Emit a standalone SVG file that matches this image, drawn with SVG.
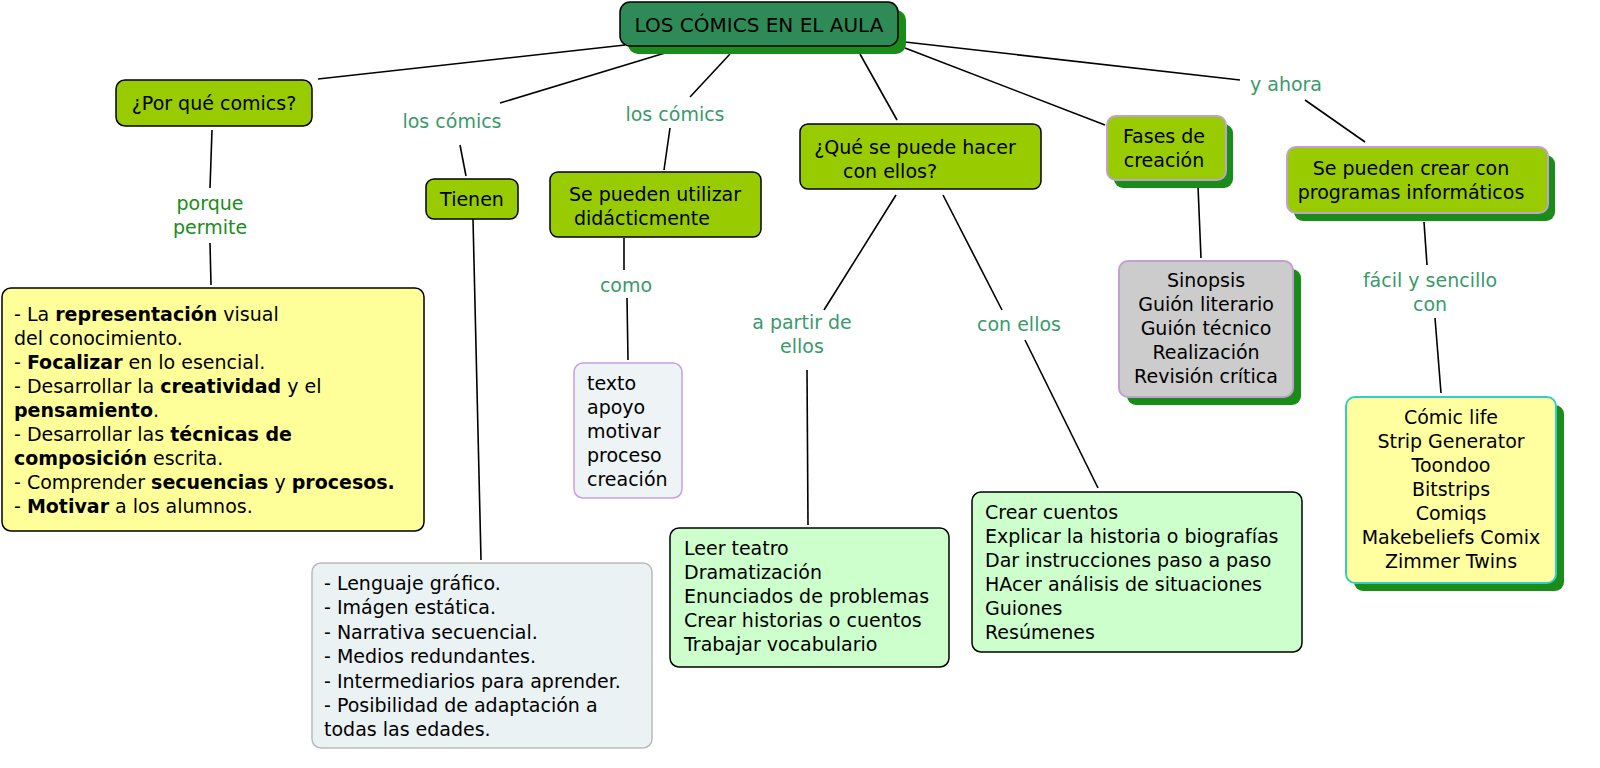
<svg xmlns="http://www.w3.org/2000/svg" width="1600" height="768" viewBox="0 0 1600 768">
<style>
text{font-family:"DejaVu Sans",Verdana,sans-serif;font-size:19px;fill:#000}
.c{text-anchor:middle}
.lbl{fill:#3a9a6a;text-anchor:middle}
.lbl2{fill:#1a8c1a;text-anchor:middle}
.g{fill:#99cc00;stroke:#000;stroke-width:1.5}
.gp{fill:#99cc00;stroke:#c0a0d0;stroke-width:2}
.sh{fill:#1a8c1a}
#conn line{stroke:#000;stroke-width:1.6}
</style>
<rect width="1600" height="768" fill="#fff"/>
<g id="conn">
<line x1="625" y1="45" x2="318" y2="79"/>
<line x1="665" y1="53" x2="500" y2="103"/>
<line x1="460" y1="145" x2="466" y2="176"/>
<line x1="730" y1="54" x2="690" y2="97"/>
<line x1="670" y1="128" x2="664" y2="170"/>
<line x1="860" y1="54" x2="897" y2="120"/>
<line x1="905" y1="48" x2="1105" y2="125"/>
<line x1="905" y1="42" x2="1240" y2="80"/>
<line x1="1305" y1="100" x2="1365" y2="142"/>
<line x1="212" y1="130" x2="210" y2="188"/>
<line x1="210" y1="243" x2="211" y2="285"/>
<line x1="473" y1="219" x2="481" y2="560"/>
<line x1="624" y1="238" x2="624" y2="270"/>
<line x1="627" y1="298" x2="628" y2="360"/>
<line x1="896" y1="195" x2="824" y2="310"/>
<line x1="807" y1="370" x2="808" y2="525"/>
<line x1="943" y1="195" x2="1002" y2="310"/>
<line x1="1025" y1="340" x2="1098" y2="488"/>
<line x1="1198" y1="186" x2="1201" y2="258"/>
<line x1="1424" y1="222" x2="1427" y2="265"/>
<line x1="1435" y1="318" x2="1441" y2="393"/>
</g>
<g id="labels">
<text class="lbl" x="452" y="128">los cómics</text>
<text class="lbl" x="675" y="121">los cómics</text>
<text class="lbl" x="1286" y="91">y ahora</text>
<text class="lbl2" x="210" y="210">porque</text>
<text class="lbl2" x="210" y="234">permite</text>
<text class="lbl" x="626" y="292">como</text>
<text class="lbl" x="802" y="329">a partir de</text>
<text class="lbl" x="802" y="353">ellos</text>
<text class="lbl" x="1019" y="331">con ellos</text>
<text class="lbl" x="1430" y="287">fácil y sencillo</text>
<text class="lbl" x="1430" y="311">con</text>
</g>
<g id="root">
<rect class="sh" x="628" y="10" width="278" height="44" rx="10"/>
<rect x="620" y="2" width="278" height="44" rx="10" fill="#2e8b57" stroke="#000" stroke-width="1.5"/>
<text class="c" x="759" y="32" style="font-size:20px">LOS CÓMICS EN EL AULA</text>
</g>
<g id="porque"><rect class="g" x="116" y="80" width="196" height="46" rx="9"/><text class="c" x="214" y="110">¿Por qué comics?</text></g>
<g id="tienen"><rect class="g" x="426" y="179" width="92" height="40" rx="8"/><text class="c" x="472" y="206">Tienen</text></g>
<g id="utilizar"><rect class="g" x="550" y="172" width="211" height="65" rx="8"/><text class="c" x="655" y="201">Se pueden utilizar</text><text class="c" x="642" y="225">didácticmente</text></g>
<g id="que"><rect class="g" x="800" y="124" width="241" height="65" rx="8"/><text class="c" x="915" y="154">¿Qué se puede hacer</text><text class="c" x="890" y="178">con ellos?</text></g>
<g id="fases"><rect class="sh" x="1114" y="124" width="119" height="64" rx="9"/><rect class="gp" x="1107" y="116" width="119" height="64" rx="9"/><text class="c" x="1164" y="143">Fases de</text><text class="c" x="1164" y="167">creación</text></g>
<g id="crear"><rect class="sh" x="1294" y="155" width="261" height="66" rx="9"/><rect class="gp" x="1287" y="147" width="261" height="66" rx="9"/><text class="c" x="1411" y="175">Se pueden crear con</text><text class="c" x="1411" y="199">programas informáticos</text></g>
<g id="razones">
<rect x="2" y="288" width="422" height="243" rx="9" fill="#ffff99" stroke="#000" stroke-width="1.5"/>
<text x="14" y="321">- La <tspan font-weight="bold">representación</tspan> visual</text>
<text x="14" y="345">del conocimiento.</text>
<text x="14" y="369">-  <tspan font-weight="bold">Focalizar</tspan> en lo esencial.</text>
<text x="14" y="393">- Desarrollar la <tspan font-weight="bold">creatividad</tspan> y el</text>
<text x="14" y="417"><tspan font-weight="bold">pensamiento</tspan>.</text>
<text x="14" y="441">- Desarrollar las <tspan font-weight="bold">técnicas de</tspan></text>
<text x="14" y="465"> <tspan font-weight="bold">composición</tspan> escrita.</text>
<text x="14" y="489">- Comprender <tspan font-weight="bold">secuencias</tspan> y <tspan font-weight="bold">procesos.</tspan></text>
<text x="14" y="513">- <tspan font-weight="bold">Motivar</tspan> a los alumnos.</text>
</g>
<g id="caracteristicas">
<rect x="312" y="563" width="340" height="185" rx="9" fill="#eaf2f4" stroke="#bbbbbb" stroke-width="1.5"/>
<text x="324" y="590">- Lenguaje gráfico.</text>
<text x="324" y="614">- Imágen estática.</text>
<text x="324" y="639">- Narrativa secuencial.</text>
<text x="324" y="663">- Medios redundantes.</text>
<text x="324" y="688">- Intermediarios para aprender.</text>
<text x="324" y="712">- Posibilidad de adaptación a</text>
<text x="324" y="736">todas las edades.</text>
</g>
<g id="texto">
<rect x="574" y="363" width="108" height="135" rx="9" fill="#eef4f6" stroke="#c8a0e0" stroke-width="1.5"/>
<text x="587" y="390">texto</text><text x="587" y="414">apoyo</text><text x="587" y="438">motivar</text><text x="587" y="462">proceso</text><text x="587" y="486">creación</text>
</g>
<g id="partir">
<rect x="670" y="528" width="279" height="139" rx="9" fill="#ccffcc" stroke="#000" stroke-width="1.5"/>
<text x="684" y="555">Leer teatro</text><text x="684" y="579">Dramatización</text><text x="684" y="603">Enunciados de problemas</text><text x="684" y="627">Crear historias o cuentos</text><text x="684" y="651">Trabajar vocabulario</text>
</g>
<g id="conellos">
<rect x="972" y="492" width="330" height="160" rx="9" fill="#ccffcc" stroke="#000" stroke-width="1.5"/>
<text x="985" y="519">Crear cuentos</text><text x="985" y="543">Explicar la historia o biografías</text><text x="985" y="567">Dar instrucciones paso a paso</text><text x="985" y="591">HAcer análisis de situaciones</text><text x="985" y="615">Guiones</text><text x="985" y="639">Resúmenes</text>
</g>
<g id="sinopsis">
<rect class="sh" x="1127" y="269" width="174" height="136" rx="9"/>
<rect x="1119" y="261" width="174" height="136" rx="9" fill="#cccccc" stroke="#c0a0d0" stroke-width="2"/>
<text class="c" x="1206" y="287">Sinopsis</text><text class="c" x="1206" y="311">Guión literario</text><text class="c" x="1206" y="335">Guión técnico</text><text class="c" x="1206" y="359">Realización</text><text class="c" x="1206" y="383">Revisión crítica</text>
</g>
<g id="programas">
<rect class="sh" x="1354" y="405" width="210" height="186" rx="9"/>
<rect x="1346" y="397" width="210" height="186" rx="9" fill="#ffffa0" stroke="#33cccc" stroke-width="2"/>
<text class="c" x="1451" y="424">Cómic life</text><text class="c" x="1451" y="448">Strip Generator</text><text class="c" x="1451" y="472">Toondoo</text><text class="c" x="1451" y="496">Bitstrips</text><text class="c" x="1451" y="520">Comiqs</text><text class="c" x="1451" y="544">Makebeliefs Comix</text><text class="c" x="1451" y="568">Zimmer Twins</text>
</g>
</svg>
